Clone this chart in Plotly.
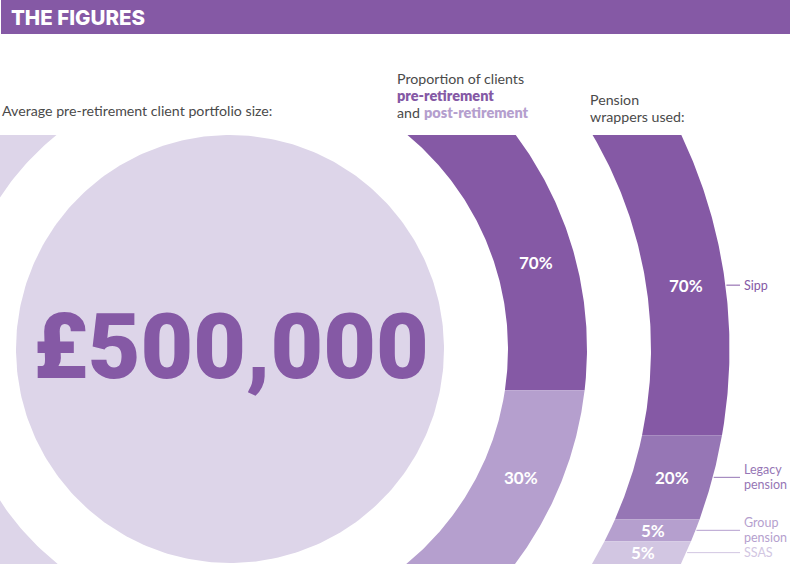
import numpy as np
import plotly.graph_objects as go

# values printed on the chart
client_labels = ["70%", "30%"]
wrapper_labels = ["70%", "20%", "5%", "5%"]
wrapper_names = [["Sipp"], ["Legacy", "pension"], ["Group", "pension"], ["SSAS"]]
portfolio_size = "£500,000"

# share of the arc each segment really takes up
client_arc_shares = [59.5, 40.5]
wrapper_arc_shares = [70, 19.6, 5.1, 5.3]

dark = "#8559A5"
pale = "#DDD5E9"
client_colors = [dark, "#B59FCE"]
wrapper_colors = [dark, "#9676B5", "#B59FCE", "#D2C6E2"]
name_colors = [dark, "#9676B5", "#B59FCE", "#D2C6E2"]

FONT = "Lato"
HEAVY = "Inter"
W, H = 790, 564
CX, CY = 230, 349
TOP, BOTTOM = 135, 564


def arc_x(r, y, side=1):
    return CX + side * np.sqrt(r**2 - (y - CY) ** 2)


def band(fig, r_in, r_out, y0, y1, color, side=1):
    ys = np.linspace(y0, y1, 120)
    xs = np.concatenate([arc_x(r_out, ys, side), arc_x(r_in, ys[::-1], side)])
    fig.add_trace(go.Scatter(x=xs, y=np.concatenate([ys, ys[::-1]]), mode="lines",
                             fill="toself", fillcolor=color, line=dict(width=0),
                             hoverinfo="skip", showlegend=False))


def label(fig, x, y, text, size, color, weight=400, xanchor="left", family=FONT):
    # annotations carry about 2px of padding on the left
    if xanchor == "left":
        x -= 2
    fig.add_annotation(x=x, y=y, text=text, showarrow=False, xanchor=xanchor, yanchor="middle",
                       align=xanchor, font=dict(family=family, size=size, color=color, weight=weight))


def ring(fig, shares, colors, labels, r_in, r_out):
    # cut a ring into stacked segments, returns the middle height of each one
    edges = TOP + np.cumsum([0] + shares) / sum(shares) * (BOTTOM - TOP)
    mids = (edges[:-1] + edges[1:]) / 2
    for i, c in enumerate(colors):
        band(fig, r_in, r_out, edges[i], edges[i + 1], c)
    for m, t in zip(mids, labels):
        label(fig, arc_x((r_in + r_out) / 2, m), m, t, 17, "white", 700, "center")
    return mids


fig = go.Figure()

# header strip
fig.add_shape(type="rect", x0=1, x1=W, y0=0, y1=34, fillcolor=dark, line_width=0, layer="below")
label(fig, 11, 17, "THE FIGURES", 20.5, "white", 800, family=HEAVY)

# pale ring on the left, then the big circle
band(fig, 275.5, 357, TOP, BOTTOM, pale, side=-1)
t = np.linspace(0, 2 * np.pi, 361)
fig.add_trace(go.Scatter(x=CX + 214 * np.cos(t), y=CY + 214 * np.sin(t), mode="lines",
                         fill="toself", fillcolor=pale, line=dict(width=0),
                         hoverinfo="skip", showlegend=False))
label(fig, 231, 347, portfolio_size, 91, dark, 900, "center", "Roboto")

ring(fig, client_arc_shares, client_colors, client_labels, 278, 357)
mids = ring(fig, wrapper_arc_shares, wrapper_colors, wrapper_labels, 421, 499.5)

# leader lines and names for the wrappers
for m, lines, c in zip(mids, wrapper_names, name_colors):
    fig.add_trace(go.Scatter(x=[arc_x(499.5, m) + 1, 740], y=[m, m], mode="lines",
                             line=dict(color=c, width=1), hoverinfo="skip", showlegend=False))
    for k, line in enumerate(lines):
        label(fig, 744, m + 15 * (k - (len(lines) - 1) / 2), line, 12.5, c)

text_col = "#4A4A4A"
label(fig, 2, 110, "Average pre-retirement client portfolio size:", 14.2, text_col)
label(fig, 397, 78, "Proportion of clients", 14.2, text_col)
label(fig, 397, 95, "pre-retirement", 14.5, dark, 800)
label(fig, 397, 112, "and", 14.2, text_col)
label(fig, 424, 112, "post-retirement", 14.5, client_colors[1], 800)
label(fig, 590, 99, "Pension", 14.2, text_col)
label(fig, 590, 116, "wrappers used:", 14.2, text_col)

fig.update_xaxes(range=[0, W], visible=False, fixedrange=True)
fig.update_yaxes(range=[H, 0], visible=False, fixedrange=True)
fig.update_layout(width=W, height=H, margin=dict(l=0, r=0, t=0, b=0),
                  paper_bgcolor="white", plot_bgcolor="white", showlegend=False)

fig.write_html("out.html", config=dict(displayModeBar=False), post_script="document.body.style.margin=0;")
